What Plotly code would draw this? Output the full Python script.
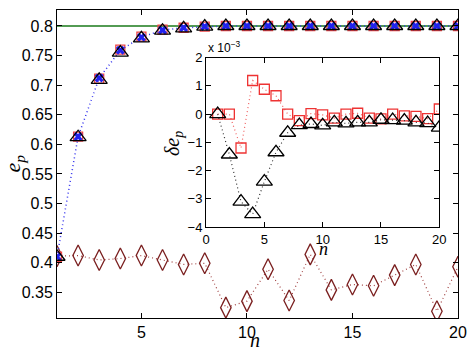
import plotly.graph_objects as go

n = list(range(1, 21))
e_blue = [0.410, 0.613, 0.712, 0.759, 0.781, 0.793, 0.797, 0.799, 0.800, 0.800,
          0.800, 0.800, 0.800, 0.800, 0.800, 0.800, 0.800, 0.800, 0.800, 0.800]
e_red = [0.410, 0.613, 0.711, 0.760, 0.782, 0.794, 0.797, 0.799, 0.800, 0.800,
         0.800, 0.800, 0.800, 0.800, 0.800, 0.800, 0.800, 0.800, 0.800, 0.800]
e_black = [0.410, 0.612, 0.709, 0.755, 0.779, 0.792, 0.796, 0.799, 0.800, 0.800,
           0.800, 0.800, 0.800, 0.800, 0.800, 0.800, 0.800, 0.800, 0.800, 0.800]
e_diamond = [0.411, 0.412, 0.4045, 0.407, 0.412, 0.4045, 0.397, 0.399, 0.324, 0.335,
             0.389, 0.336, 0.414, 0.354, 0.363, 0.361, 0.379, 0.397, 0.318, 0.393]
e_limit = 0.8

d_red = [0.0, 0.0, -1.2, 1.19, 0.88, 0.65, 0.0, -0.23, 0.02, -0.03,
         -0.14, 0.0, 0.03, -0.14, -0.17, 0.0, -0.06, -0.08, -0.16, 0.18]
d_black = [0.0, -1.43, -3.1, -3.54, -2.39, -1.35, -0.66, -0.39, -0.35, -0.4,
           -0.29, -0.33, -0.29, -0.29, -0.2, -0.21, -0.23, -0.29, -0.32, -0.48]

main_xticks = [5, 10, 15, 20]
main_yticks = [0.35, 0.4, 0.45, 0.5, 0.55, 0.6, 0.65, 0.7, 0.75, 0.8]
inset_xticks = [0, 5, 10, 15, 20]
inset_yticks = [-4, -3, -2, -1, 0, 1, 2]

DIAM = "#7a1f1f"
FONT = "Liberation Sans"
DOT = "1px,3px"

fig = go.Figure()

fig.add_trace(go.Scatter(x=[1, 20], y=[e_limit, e_limit], mode="lines",
                         line=dict(color="#1a7a1a", width=1.5), xaxis="x", yaxis="y"))
fig.add_trace(go.Scatter(x=n, y=e_diamond, mode="lines+markers",
                         line=dict(color="#a04040", width=1.2, dash=DOT),
                         marker=dict(symbol="diamond-tall-open", size=15, color=DIAM, line=dict(width=1.3)),
                         xaxis="x", yaxis="y"))
fig.add_trace(go.Scatter(x=n, y=e_red, mode="markers",
                         marker=dict(symbol="square-open", size=9, color="#ee4444", line=dict(width=1.3)),
                         xaxis="x", yaxis="y"))
fig.add_trace(go.Scatter(x=n, y=e_blue, mode="lines+markers",
                         line=dict(color="#3333ee", width=1.5, dash=DOT),
                         marker=dict(symbol="x", size=8, color="#2222ee", line=dict(width=0)),
                         xaxis="x", yaxis="y"))
fig.add_trace(go.Scatter(x=n, y=e_black, mode="markers",
                         marker=dict(symbol="triangle-up-open", size=14, color="black", line=dict(width=1.3)),
                         xaxis="x", yaxis="y"))

# inset
fig.add_trace(go.Scatter(x=n, y=d_red, mode="lines+markers",
                         line=dict(color="#f06060", width=1.2, dash=DOT),
                         marker=dict(symbol="square-open", size=10, color="#ee3333", line=dict(width=1.3)),
                         xaxis="x2", yaxis="y2"))
fig.add_trace(go.Scatter(x=n, y=d_black, mode="lines+markers",
                         line=dict(color="#333333", width=1.2, dash=DOT),
                         marker=dict(symbol="triangle-up-open", size=14, color="black", line=dict(width=1.3)),
                         xaxis="x2", yaxis="y2"))

ax_common = dict(showgrid=False, zeroline=False, showline=True, linecolor="black", linewidth=1,
                 mirror="ticks", ticks="inside", tickcolor="black", ticklen=5)

def px(xp):
    return (xp - 57) / 401

def py(yp):
    return (318 - yp) / 315

fig.update_layout(
    width=474, height=352,
    margin=dict(l=57, r=16, t=3, b=34),
    paper_bgcolor="white", plot_bgcolor="white",
    showlegend=False,
    font=dict(family=FONT, color="black", size=15),
    xaxis=dict(range=[1, 20], tickvals=main_xticks, tickfont=dict(size=16), **ax_common),
    yaxis=dict(range=[0.3065, 0.827], tickvals=main_yticks,
               ticktext=[f"{v:g}" for v in main_yticks], tickfont=dict(size=16), **ax_common),
    xaxis2=dict(domain=[0.3716, 0.9534], anchor="y2", range=[0, 20], tickvals=inset_xticks,
                tickfont=dict(size=13), **ax_common),
    yaxis2=dict(domain=[0.2952, 0.8454], anchor="x2", range=[-4, 2], tickvals=inset_yticks,
                ticktext=[str(v).replace("-", "\u2212") for v in inset_yticks],
                tickfont=dict(size=13), **ax_common),
    shapes=[dict(type="rect", xref="paper", yref="paper", x0=0.3716, x1=0.9534,
                 y0=0.2952, y1=0.8454, fillcolor="white", line=dict(width=0), layer="below")],
    annotations=[
        dict(text="<i>e<sub>p</sub></i>", x=px(14), y=py(160), xref="paper", yref="paper",
             showarrow=False, xanchor="center", yanchor="middle",
             font=dict(family="Liberation Serif", size=22), textangle=-90),
        dict(text="<i>n</i>", x=px(255), y=py(340), xref="paper", yref="paper",
             showarrow=False, xanchor="center", yanchor="middle",
             font=dict(family="Liberation Serif", size=20)),
        dict(text="<i>δe<sub>p</sub></i>", x=px(174), y=py(140), xref="paper", yref="paper",
             showarrow=False, xanchor="center", yanchor="middle",
             font=dict(family="Liberation Serif", size=20), textangle=-90),
        dict(text="<i>n</i>", x=px(323), y=py(247), xref="paper", yref="paper",
             showarrow=False, xanchor="center", yanchor="middle",
             font=dict(family="Liberation Serif", size=18)),
        dict(text="x 10<sup>−3</sup>", x=px(206), y=py(51), xref="paper", yref="paper",
             showarrow=False, xanchor="left", yanchor="bottom", font=dict(family=FONT, size=12)),
    ],
)

fig.write_html("out.html")
